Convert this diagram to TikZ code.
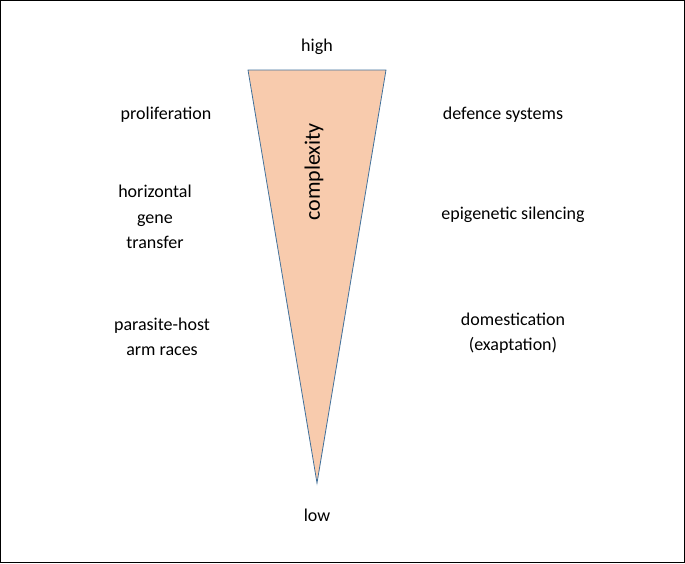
\documentclass[tikz,border=0pt]{standalone}
\usepackage{fontspec}
\setmainfont{Carlito}
\definecolor{peach}{HTML}{F8CBAD}
\definecolor{edge}{HTML}{41719C}
\begin{document}
\begin{tikzpicture}[x=1pt,y=-1pt,
  lbl/.style={align=center,font=\fontsize{18}{25.5}\selectfont,inner sep=0pt}]
\draw[black,line width=1pt] (0.5,0.5) rectangle (684.5,562.5);
\useasboundingbox (0,0) rectangle (685,563);
\coordinate (tl) at (248,70);
\coordinate (tr) at (386,70);
\coordinate (ap) at (317,483);
\draw[edge,fill=peach,line width=0.8pt,line join=miter] (tl) -- (tr) -- (ap) -- cycle;
\node[lbl,rotate=90,font=\fontsize{22}{26}\selectfont] (cx) at (314,172) {complexity};
\node[lbl] (hi) at (317,47) {high};
\node[lbl] (lo) at (317,515) {low};
\node[lbl] (p) at (166,115) {proliferation};
\node[lbl] (h) at (155,217) {horizontal\\gene\\transfer};
\node[lbl] (a) at (162,337) {parasite-host\\arm races};
\node[lbl] (d) at (503,115) {defence systems};
\node[lbl] (e) at (513,215) {epigenetic silencing};
\node[lbl] (x) at (513,333) {domestication\\(exaptation)};
\end{tikzpicture}
\end{document}
